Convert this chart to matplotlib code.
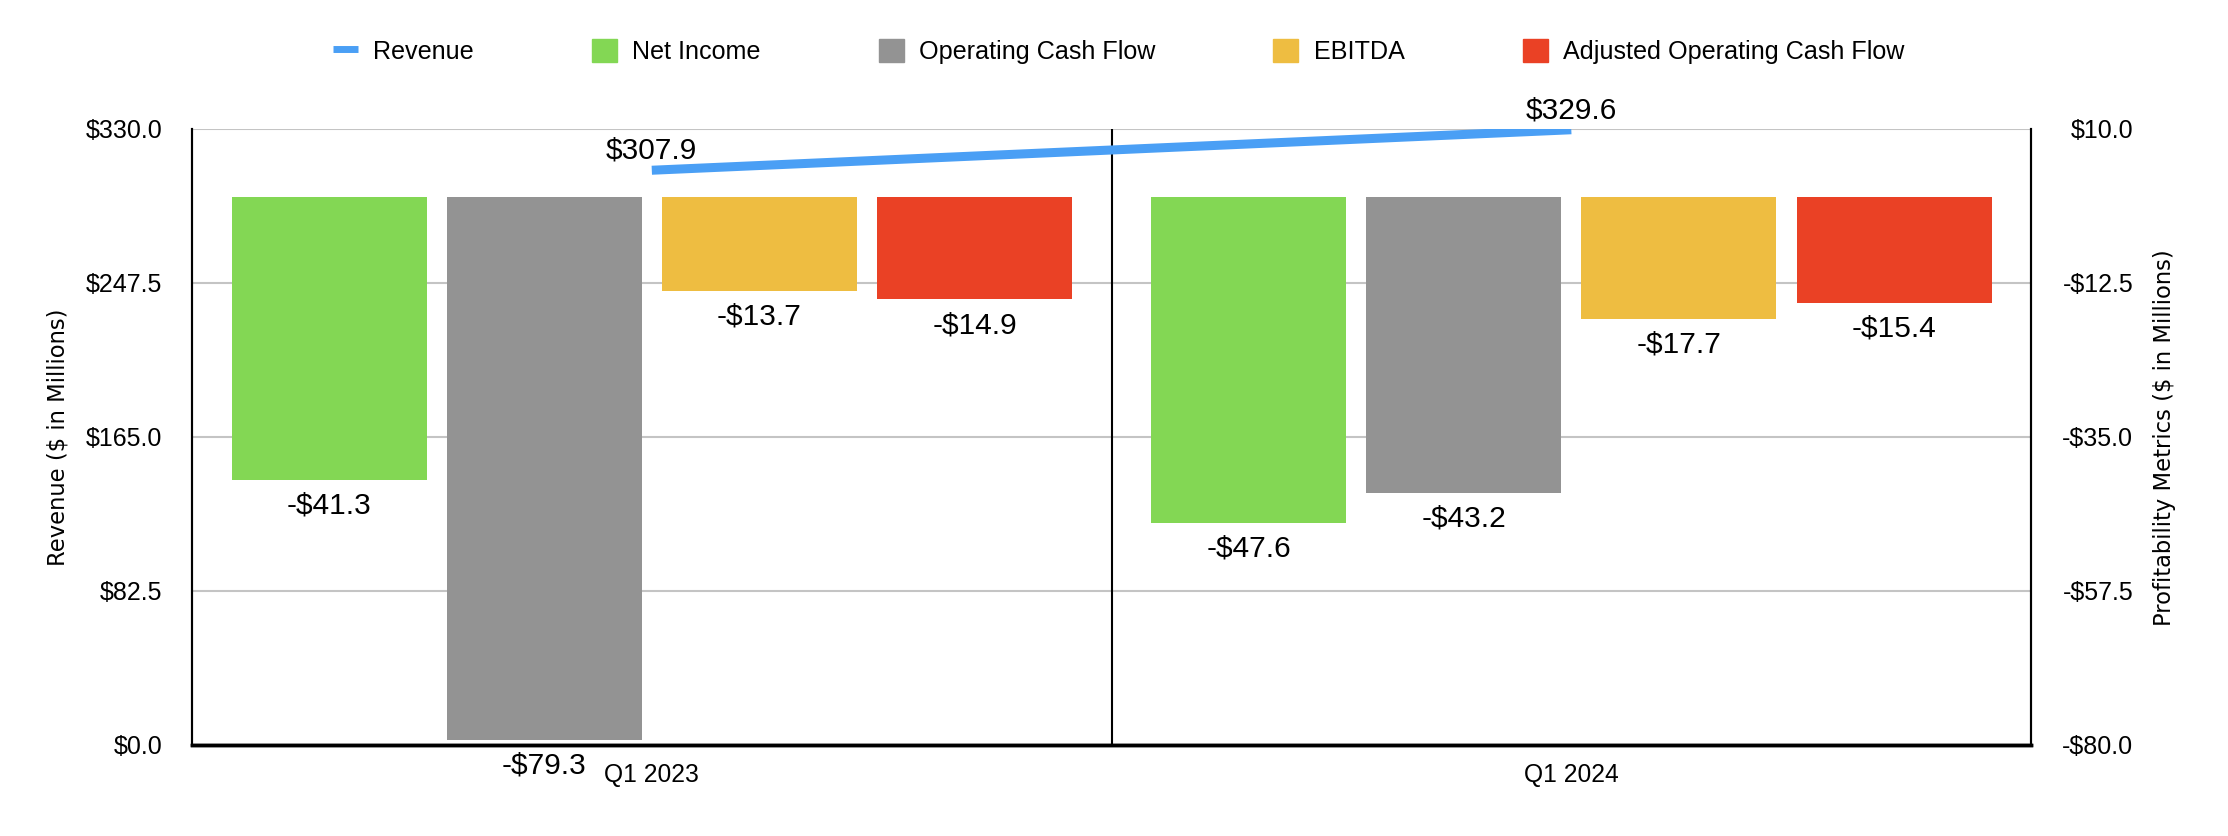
import matplotlib
matplotlib.use("Agg")
import numpy as np
import matplotlib.pyplot as plt
from matplotlib.lines import Line2D
from matplotlib.patches import Patch

plt.rcParams['font.family'] = ['Liberation Sans', 'DejaVu Sans']

quarters = ["Q1 2023", "Q1 2024"]
revenue = [307.9, 329.6]
net_income = [-41.3, -47.6]
op_cash_flow = [-79.3, -43.2]
ebitda = [-13.7, -17.7]
adj_op_cash_flow = [-14.9, -15.4]

series_names = ["Net Income", "Operating Cash Flow", "EBITDA", "Adjusted Operating Cash Flow"]
series_vals = [net_income, op_cash_flow, ebitda, adj_op_cash_flow]
series_colors = ["#83d754", "#939393", "#eebd41", "#ea4125"]
rev_color = "#4a9ff5"

left_ticks = [0.0, 82.5, 165.0, 247.5, 330.0]
right_ticks = [-80.0, -57.5, -35.0, -12.5, 10.0]


def money(v):
    if v < 0:
        return f"-${abs(v):.1f}"
    return f"${v:.1f}"


fig = plt.figure(figsize=(22.28, 8.36), dpi=100)
ax = fig.add_axes([0.0862, 0.1089, 0.9116 - 0.0862, 0.8457 - 0.1089])
ax2 = ax.twinx()

x = np.arange(len(quarters))
step = 0.234
width = 0.212

# bars on the right axis
for i, (name, vals, col) in enumerate(zip(series_names, series_vals, series_colors)):
    pos = x + (i - 1.5) * step
    ax2.bar(pos, vals, width=width, color=col, zorder=2)
    for px, v in zip(pos, vals):
        ax2.annotate(money(v), (px, v), xytext=(0, -18.5), textcoords="offset points",
                     ha="center", va="center", fontsize=21.5)

# revenue line on the left axis
ax.plot(x, revenue, color=rev_color, lw=6.5, solid_capstyle="butt", zorder=3)
for px, v in zip(x, revenue):
    ax.annotate(money(v), (px, v), xytext=(0, 14), textcoords="offset points",
                ha="center", va="center", fontsize=21.5)
ax.set_zorder(ax2.get_zorder() + 1)
ax.patch.set_visible(False)
ax2.patch.set_visible(True)
ax2.patch.set_facecolor("white")

ax.set_xlim(-0.5, 1.5)
ax.set_ylim(0, 330)
ax2.set_ylim(-80, 10)
ax.set_yticks(left_ticks)
ax.set_yticklabels([money(v) for v in left_ticks])
ax2.set_yticks(right_ticks)
ax2.set_yticklabels([money(v) for v in right_ticks])
ax.set_xticks(x)
ax.set_xticklabels(quarters)

ax.tick_params(axis="y", length=0, pad=21.5, labelsize=18)
ax.tick_params(axis="x", length=0, pad=13, labelsize=17.7)
ax2.tick_params(axis="y", length=0, pad=73.5, labelsize=18)
for t in ax2.get_yticklabels():
    t.set_horizontalalignment("right")

# grid drawn on the back axes
for v in right_ticks:
    ax2.axhline(v, color="#c4c4c4", lw=1.5, zorder=0)
ax.axvline(0.5, color="black", lw=1.5, zorder=1)

for a in (ax, ax2):
    a.spines["top"].set_visible(False)
    a.spines["left"].set_color("black")
    a.spines["right"].set_color("black")
    a.spines["left"].set_linewidth(1.5)
    a.spines["right"].set_linewidth(1.5)
    a.spines["bottom"].set_linewidth(2.5)

fig.text(0.026, 0.477, "Revenue ($ in Millions)", rotation=90, ha="center", va="center",
         fontsize=16.3, family="DejaVu Sans")
fig.text(0.9717, 0.477, "Profitability Metrics ($ in Millions)", rotation=90, ha="center",
         va="center", fontsize=16.3, family="DejaVu Sans")

handles = [Line2D([], [], color=rev_color, lw=5, solid_capstyle="butt")]
handles += [Patch(color=c) for c in series_colors]
labels = ["Revenue"] + series_names
fig.legend(handles, labels, loc="center", bbox_to_anchor=(0.502, 0.938), ncol=5,
           frameon=False, fontsize=18.1, handlelength=1.0, handleheight=1.0,
           handletextpad=0.6, columnspacing=4.7)

fig.savefig("out.png", dpi=100)
